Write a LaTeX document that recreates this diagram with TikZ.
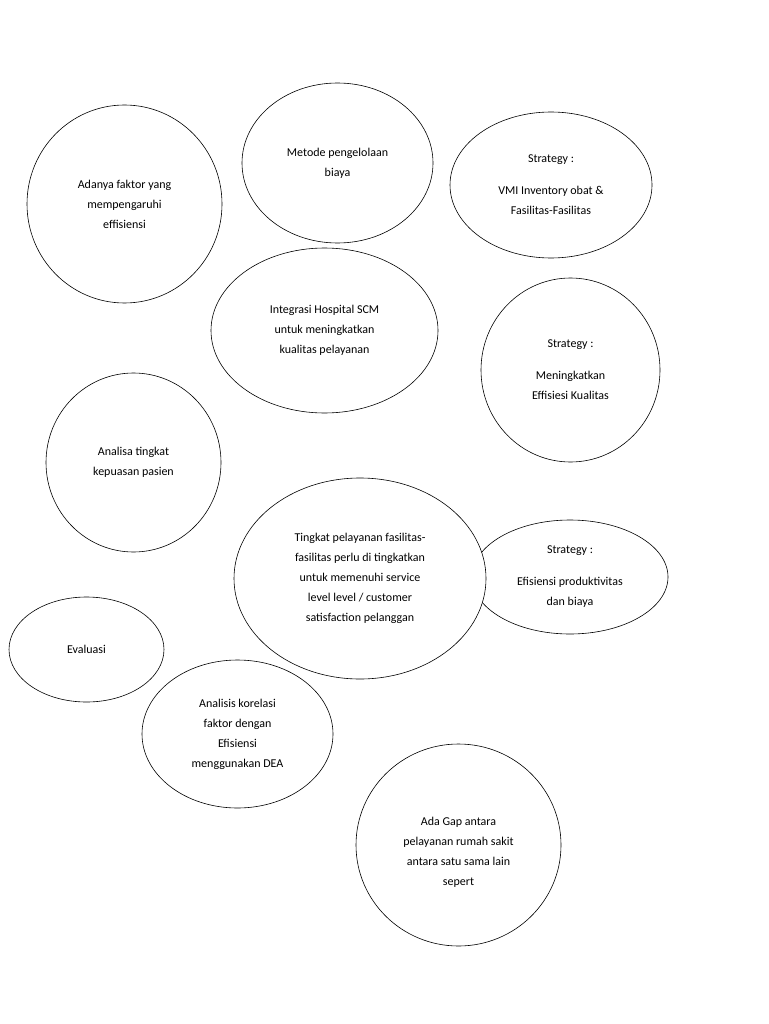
\documentclass[tikz,border=0pt]{standalone}
\usepackage{fontspec}
\setmainfont{Carlito}
\usetikzlibrary{shapes.geometric}
\tikzset{
  bubble/.style={draw, ellipse, fill=white, line width=0.6pt, inner sep=0pt,
    align=center, font=\fontsize{12}{20}\selectfont}
}
\begin{document}
\begin{tikzpicture}[x=1pt, y=-1pt]
  \useasboundingbox (0,0) rectangle (768,1024);
  % bubbles: centre, width, height
  \node[bubble, minimum width=195pt, minimum height=198pt] (adanya) at (124.5,204)
    {Adanya faktor yang\\mempengaruhi\\effisiensi};
  \node[bubble, minimum width=191pt, minimum height=160pt] (metode) at (337.5,163)
    {Metode pengelolaan\\biaya};
  \node[bubble, minimum width=202pt, minimum height=146pt] (vmi) at (551,185)
    {Strategy :\\[12pt]VMI Inventory obat \&\\Fasilitas-Fasilitas};
  \node[bubble, minimum width=227pt, minimum height=165pt] (integrasi) at (324.5,330.5)
    {Integrasi Hospital SCM\\untuk meningkatkan\\kualitas pelayanan};
  \node[bubble, minimum width=179pt, minimum height=184pt] (kualitas) at (570.5,370)
    {Strategy :\\[12pt]Meningkatkan\\Effisiesi Kualitas};
  \node[bubble, minimum width=175pt, minimum height=179pt] (analisa) at (133.5,462.5)
    {Analisa tingkat\\kepuasan pasien};
  \node[bubble, minimum width=196pt, minimum height=114pt] (biaya) at (570,577)
    {Strategy :\\[12pt]Efisiensi produktivitas\\dan biaya};
  \node[bubble, minimum width=252pt, minimum height=201pt] (tingkat) at (360,578.5)
    {Tingkat pelayanan fasilitas-\\fasilitas perlu di tingkatkan\\untuk memenuhi service\\level level / customer\\satisfaction pelanggan};
  \node[bubble, minimum width=155pt, minimum height=105pt] (evaluasi) at (86.5,649.5)
    {Evaluasi};
  \node[bubble, minimum width=191pt, minimum height=148pt] (korelasi) at (237.5,734)
    {Analisis korelasi\\faktor dengan\\Efisiensi\\menggunakan DEA};
  \node[bubble, minimum width=205pt, minimum height=202pt] (gap) at (458.5,845)
    {\\[2pt]Ada Gap antara\\pelayanan rumah sakit\\antara satu sama lain\\sepert};
\end{tikzpicture}
\end{document}
